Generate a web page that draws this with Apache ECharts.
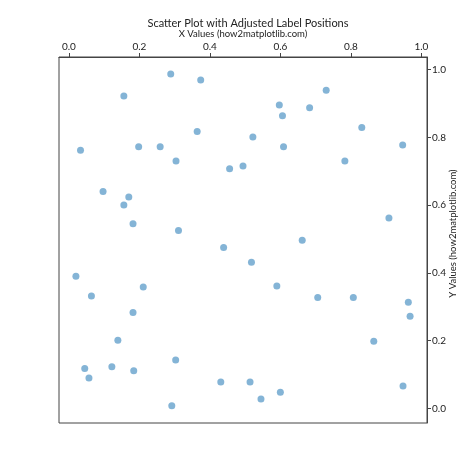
<!DOCTYPE html>
<html>
<head>
<meta charset="utf-8">
<script src="https://cdn.jsdelivr.net/npm/echarts@6/dist/echarts.min.js"></script>
<style>
  html, body { margin: 0; padding: 0; background: #fff; }
  #chart { width: 474px; height: 474px; }
</style>
</head>
<body>
<div id="chart"></div>
<script>
// data
const xValues = [
  0.289, 0.374, 0.156, 0.364, 0.033, 0.198, 0.259, 0.304, 0.456, 0.097,
  0.170, 0.156, 0.182, 0.311, 0.730, 0.597, 0.683, 0.606, 0.831, 0.522,
  0.947, 0.609, 0.783, 0.494, 0.908, 0.662, 0.439, 0.020, 0.211, 0.064,
  0.182, 0.139, 0.303, 0.045, 0.122, 0.184, 0.057, 0.431, 0.292, 0.518,
  0.590, 0.706, 0.807, 0.963, 0.968, 0.865, 0.514, 0.600, 0.545, 0.948
]
const yValues = [
  0.987, 0.969, 0.922, 0.817, 0.762, 0.772, 0.772, 0.730, 0.707, 0.640,
  0.624, 0.600, 0.545, 0.525, 0.939, 0.895, 0.887, 0.864, 0.829, 0.801,
  0.777, 0.772, 0.730, 0.715, 0.562, 0.496, 0.475, 0.390, 0.358, 0.332,
  0.283, 0.201, 0.143, 0.118, 0.123, 0.111, 0.090, 0.078, 0.008, 0.431,
  0.361, 0.327, 0.327, 0.313, 0.272, 0.198, 0.078, 0.048, 0.028, 0.066
]
const xTicks = [0, 0.2, 0.4, 0.6, 0.8, 1.0]
const yTicks = [0, 0.2, 0.4, 0.6, 0.8, 1.0]

const chart = echarts.init(document.getElementById('chart'))
const font = 'Lato'

chart.setOption({
  backgroundColor: '#fff',
  animation: false,
  title: {
    text: 'Scatter Plot with Adjusted Label Positions',
    left: 243,
    textAlign: 'center',
    top: 13,
    textStyle: { fontFamily: font, fontSize: 11, fontWeight: 'normal', color: '#222' }
  },
  grid: {
    left: 59, right: 47, top: 57, bottom: 51,
    show: true, borderColor: '#444', borderWidth: 1
  },
  xAxis: {
    type: 'value',
    position: 'top',
    min: -0.028,
    max: 1.016,
    name: 'X Values (how2matplotlib.com)',
    nameLocation: 'middle',
    nameGap: 18,
    nameMoveOverlap: false,
    nameTextStyle: { fontFamily: font, fontSize: 9.5, color: '#222' },
    axisLine: { show: true, onZero: false, lineStyle: { color: '#444' } },
    axisTick: { show: true, length: 4, customValues: xTicks, lineStyle: { color: '#444' } },
    axisLabel: {
      customValues: xTicks,
      formatter: v => v.toFixed(1),
      fontFamily: font, fontSize: 10, color: '#222', margin: 5
    },
    splitLine: { show: false }
  },
  yAxis: {
    type: 'value',
    position: 'right',
    min: -0.043,
    max: 1.037,
    name: 'Y Values (how2matplotlib.com)',
    nameLocation: 'middle',
    nameRotate: 90,
    nameGap: 21,
    nameMoveOverlap: false,
    nameTextStyle: { fontFamily: font, fontSize: 9.5, color: '#222', padding: [0, 0, 0, 13] },
    axisLine: { show: true, onZero: false, lineStyle: { color: '#444' } },
    axisTick: { show: true, length: 4, customValues: yTicks, lineStyle: { color: '#444' } },
    axisLabel: {
      customValues: yTicks,
      formatter: v => v.toFixed(1),
      fontFamily: font, fontSize: 10, color: '#222', margin: 5
    },
    splitLine: { show: false }
  },
  series: [{
    type: 'scatter',
    symbolSize: 7,
    itemStyle: { color: '#1f77b4', opacity: 0.55 },
    data: xValues.map((x, i) => [x, yValues[i]])
  }]
})
</script>
</body>
</html>
